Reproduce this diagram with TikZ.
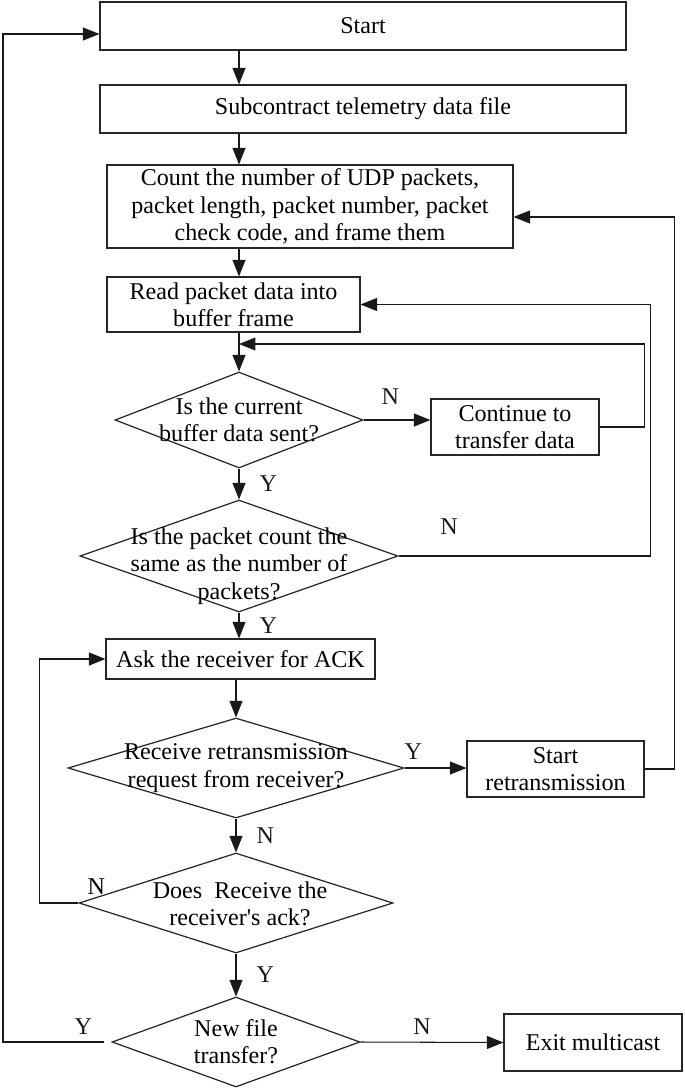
\documentclass[tikz,border=0pt]{standalone}
\usepackage{fontspec}
\setmainfont{Liberation Serif}
\usepackage{tikz}
\usetikzlibrary{positioning,shapes.geometric,arrows.meta}

\newcommand{\flowfont}{\fontsize{13.7}{15.5}\selectfont}

\begin{document}
\begin{tikzpicture}[
    x=0.02cm, y=-0.02cm,
    box/.style={
      rectangle, draw=black!85, line width=0.7pt,
      inner sep=0pt, align=center, font=\flowfont
    },
    dia/.style={
      diamond, draw=black!85, line width=0.7pt, inner sep=0pt
    },
    txt/.style={align=center, font=\flowfont, inner sep=0pt},
    lbl/.style={font=\flowfont, inner sep=0pt},
    arrow/.style={-{Triangle[length=0.33cm, width=0.26cm]}, line width=0.6pt, color=black!90}
  ]
  \useasboundingbox (0,0) rectangle (685,1090);

  % Top boxes
  \node[box, minimum width=10.52cm, minimum height=0.96cm] (start) at (363,26) {Start};
  \node[box, minimum width=10.52cm, minimum height=0.96cm] (sub) at (363,109) {Subcontract telemetry data file};
  \node[box, minimum width=8.12cm, minimum height=1.66cm] (count) at (310,206.5) {Count the number of UDP packets,\\packet length, packet number, packet\\check code, and frame them};
  \node[box, minimum width=5.06cm, minimum height=1.1cm] (read) at (233.5,304.5) {Read packet data into\\buffer frame};

  % Sending loop
  \node[dia, minimum width=4.96cm, minimum height=1.92cm] (d1) at (239,420) {};
  \node[txt] (d1t) at (d1) {Is the current\\buffer data sent?};
  \node[box, minimum width=3.36cm, minimum height=1.12cm] (cont) at (515,427) {Continue to\\transfer data};
  \node[dia, minimum width=6.36cm, minimum height=2.24cm] (d2) at (239,556) {};
  \node[txt] (d2t) at (239,566) {Is the packet count the\\same as the number of\\packets?};

  % Acknowledgement
  \node[box, minimum width=5.38cm, minimum height=0.8cm] (ask) at (240.5,659) {Ask the receiver for ACK};
  \node[dia, minimum width=6.72cm, minimum height=2cm] (d3) at (236,768) {};
  \node[txt] (d3t) at (d3) {Receive retransmission\\request from receiver?};
  \node[box, minimum width=3.54cm, minimum height=1.12cm] (retx) at (555.5,769) {Start\\retransmission};
  \node[dia, minimum width=6.28cm, minimum height=2cm] (d4) at (236,903) {};
  \node[txt] (d4t) at (240,904) {Does\ \ Receive the\\receiver\textquotesingle s ack?};

  % End
  \node[dia, minimum width=4.96cm, minimum height=1.8cm] (d5) at (236,1042) {};
  \node[txt] (d5t) at (d5) {New file\\transfer?};
  \node[box, minimum width=3.56cm, minimum height=1.14cm] (exitm) at (593,1042.5) {Exit multicast};

  \coordinate (j1) at (239,344);

  % Arrows
  \draw[arrow] (start.south -| d1) -- (sub.north -| d1);
  \draw[arrow] (sub.south -| d1) -- (count.north -| d1);
  \draw[arrow] (count.south -| d1) -- (read.north -| d1);
  \draw[arrow] (read.south -| d1) -- (d1.north);
  \draw[arrow] (d1.east) -- node[lbl, pos=0.4, above=0.3cm] (n1) {N} (cont.west |- d1);
  \draw[arrow] (cont.east) -- ++(45,0) |- (j1);
  \draw[arrow] (d1.south) -- node[lbl, right=0.4cm] (y1) {Y} (d2.north);
  \draw[arrow] (d2.east) -- node[lbl, pos=0.2, above=0.42cm] (n2) {N} ++(252,0) |- (read.east);
  \draw[arrow] (d2.south) -- node[lbl, right=0.4cm] (y2) {Y} (ask.north -| d2);
  \draw[arrow] (ask.south -| d3) -- (d3.north);
  \draw[arrow] (d3.east) -- node[lbl, pos=0.14, above=0.16cm] (y3) {Y} (retx.west |- d3);
  \draw[arrow] (retx.east) -- ++(30,0) |- (count.east |- 0,217);
  \draw[arrow] (d3.south) -- node[lbl, right=0.4cm] (n3) {N} (d4.north);
  \draw[arrow] (d4.west) -- ++(-39,0) |- (ask.west);
  \node[lbl] (n4) at ([shift={(18,-16)}]d4.west) {N};
  \draw[arrow] (d4.south) -- node[lbl, right=0.4cm] (y4) {Y} (d5.north);
  \draw[arrow, shorten <=0.14cm] (d5.west) -- node[lbl, pos=0.26, above=0.14cm] (y5) {Y} (d5.west -| 3,0) |- (start.west |- 0,34);
  \draw[arrow] (d5.east) -- node[lbl, pos=0.43, above=0.14cm] (n5) {N} (exitm.west);

\end{tikzpicture}
\end{document}
